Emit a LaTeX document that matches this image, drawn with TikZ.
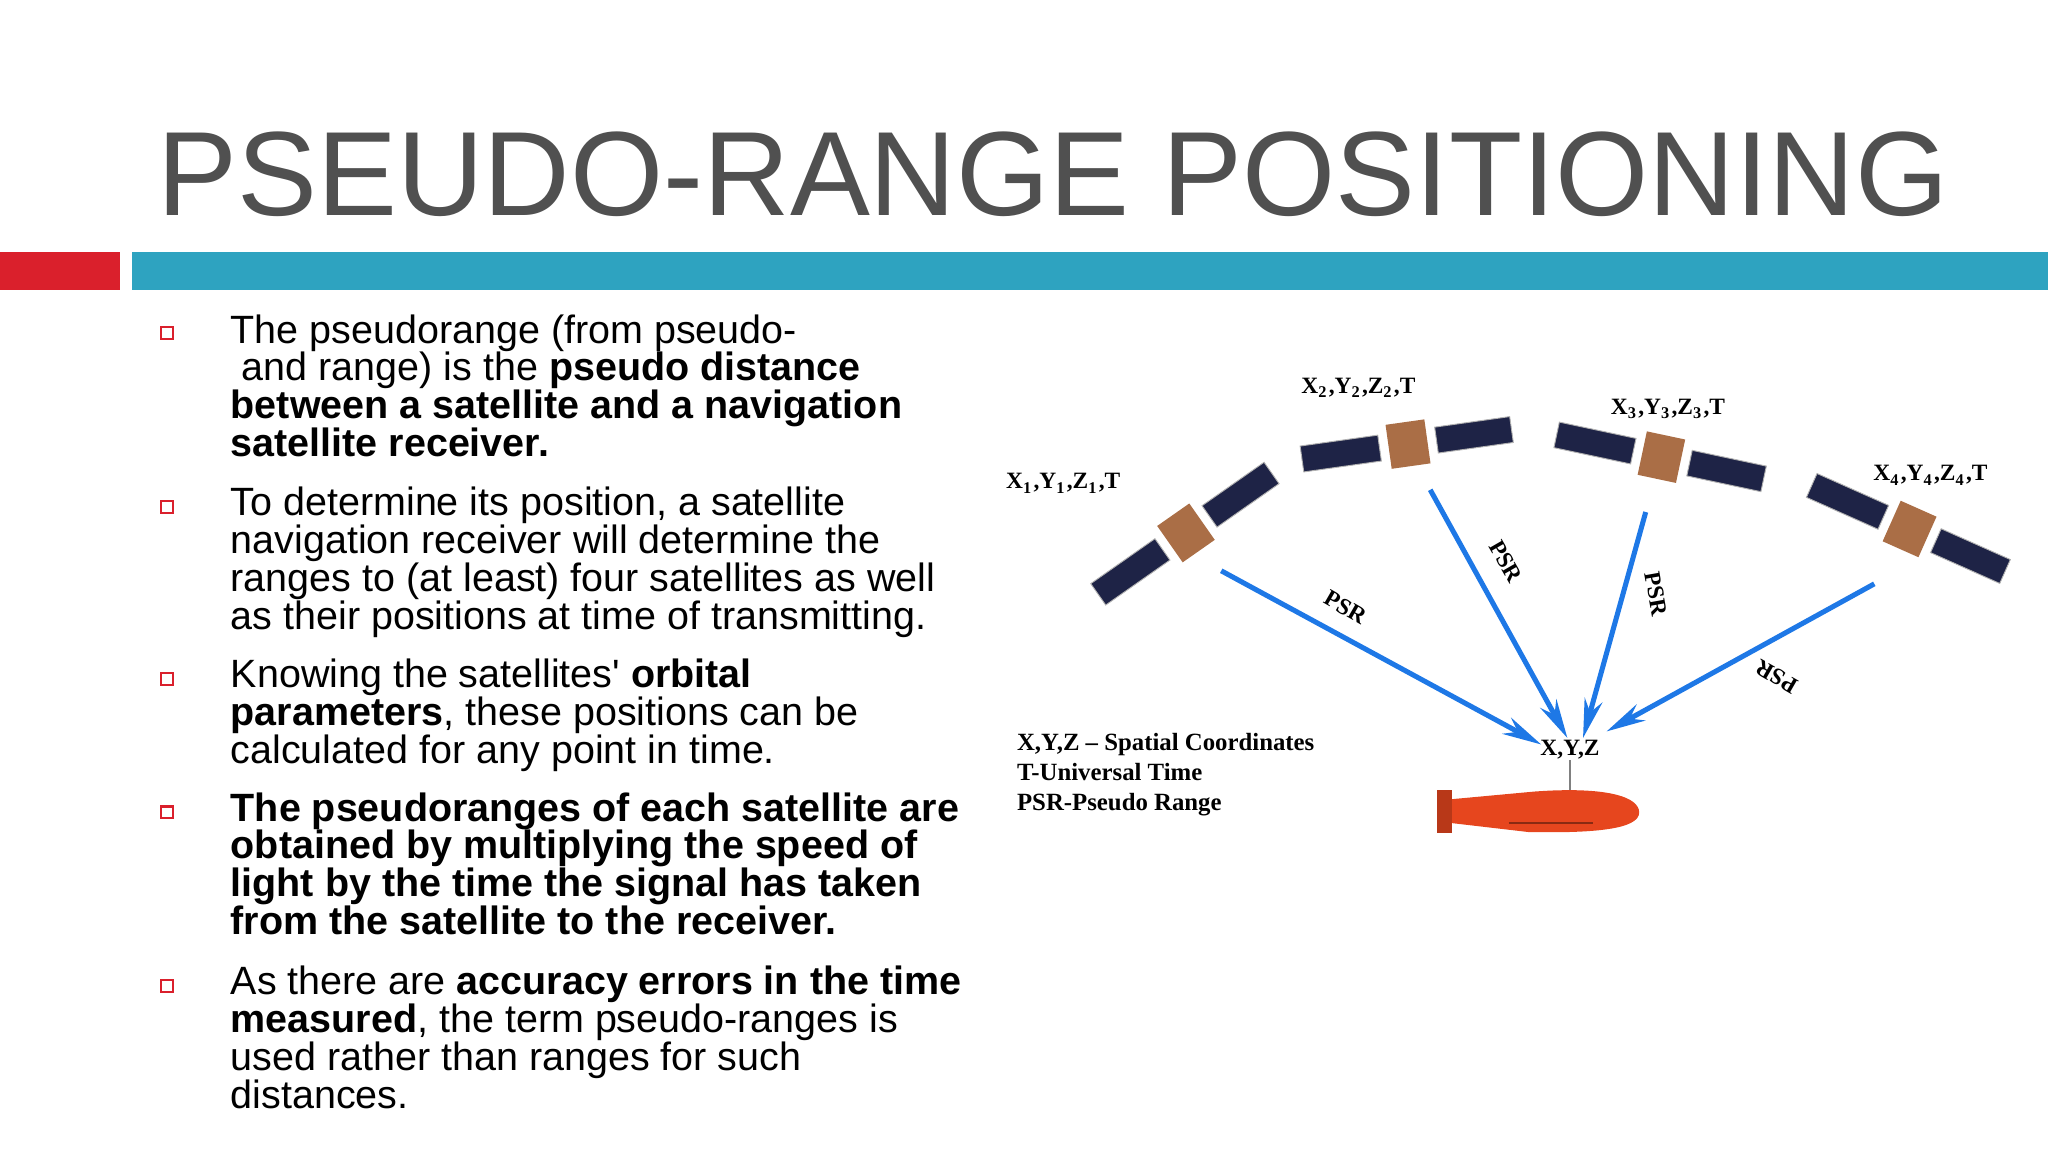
\documentclass[tikz,border=0pt]{standalone}
\usepackage{fontspec}
\setmainfont{Liberation Serif}
\newfontfamily\slidefont{Liberation Sans}
\usetikzlibrary{positioning,arrows.meta}
\definecolor{teal}{RGB}{46,163,192}
\definecolor{barred}{RGB}{218,32,44}
\definecolor{titlegray}{RGB}{80,80,80}
\definecolor{psrblue}{RGB}{30,120,230}
\definecolor{panel}{RGB}{30,35,70}
\definecolor{satbody}{RGB}{170,110,70}
\definecolor{sub}{RGB}{230,70,30}
\tikzset{
  bullet/.style={draw=barred,line width=0.5pt,minimum size=0.09cm,inner sep=0pt},
  para/.style={anchor=north west,align=left,inner sep=0pt,font=\slidefont\fontsize{8.6}{8.25}\selectfont},
  coord/.style={font=\bfseries\fontsize{5.1}{6}\selectfont,inner sep=0pt},
  psr/.style={font=\bfseries\fontsize{5.1}{6}\selectfont,inner sep=0pt},
  psrarrow/.style={-{Stealth[length=0.3cm,width=0.14cm]},psrblue,line width=1.1pt},
  sunpanel/.style={fill=panel,draw=gray!60,line width=0.2pt},
}
\newcommand{\satellite}[4]{% name, x, y, angle
  \begin{scope}[shift={(#2,#3)},rotate=#4]
    \fill[sunpanel] (-0.82,-0.1) rectangle (-0.22,0.1);
    \fill[sunpanel] (0.22,-0.1) rectangle (0.8,0.1);
    \fill[satbody] (-0.15,-0.17) rectangle (0.15,0.17);
    \coordinate (#1) at (0,0);
  \end{scope}}
\begin{document}
\begin{tikzpicture}[x=1cm,y=1cm]
\useasboundingbox (0,0) rectangle (15.68,8.82);
% title and bars
\node[anchor=base west,inner sep=0pt,text=titlegray,font=\slidefont\fontsize{26.1}{30}\selectfont] (title) at (1.2,7.17) {PSEUDO-RANGE POSITIONING};
\fill[barred] (0,6.6) rectangle (0.92,6.89);
\fill[teal] (1.01,6.6) rectangle (15.68,6.89);
% bullets
\node[bullet] (b1) at (1.28,8.82-2.55) {};
\node[bullet] (b2) at (1.28,8.82-3.88) {};
\node[bullet] (b3) at (1.28,8.82-5.20) {};
\node[bullet] (b4) at (1.28,8.82-6.22) {};
\node[bullet] (b5) at (1.28,8.82-7.55) {};
\node[para] (t1) at (1.76,8.82-2.40) {The pseudorange (from pseudo-\\\ and range) is the \textbf{pseudo distance}\\\textbf{between a satellite and a navigation}\\\textbf{satellite receiver.}};
\node[para] (t2) at (1.76,8.82-3.72) {To determine its position, a satellite\\navigation receiver will determine the\\ranges to (at least) four satellites as well\\as their positions at time of transmitting.};
\node[para] (t3) at (1.76,8.82-5.04) {Knowing the satellites' \textbf{orbital}\\\textbf{parameters}, these positions can be\\calculated for any point in time.};
\node[para] (t4) at (1.76,8.82-6.06) {\textbf{The pseudoranges of each satellite are}\\\textbf{obtained by multiplying the speed of}\\\textbf{light by the time the signal has taken}\\\textbf{from the satellite to the receiver.}};
\node[para] (t5) at (1.76,8.82-7.39) {As there are \textbf{accuracy errors in the time}\\\textbf{measured}, the term pseudo-ranges is\\used rather than ranges for such\\distances.};
% satellites
\satellite{s1}{9.08}{8.82-4.08}{35}
\satellite{s2}{10.78}{8.82-3.40}{8}
\satellite{s3}{12.72}{8.82-3.50}{-12}
\satellite{s4}{14.62}{8.82-4.05}{-24}
\node[coord] (l1) at (8.14,8.82-3.70) {X\textsubscript{1},Y\textsubscript{1},Z\textsubscript{1},T};
\node[coord] (l2) at (10.40,8.82-2.97) {X\textsubscript{2},Y\textsubscript{2},Z\textsubscript{2},T};
\node[coord] (l3) at (12.77,8.82-3.13) {X\textsubscript{3},Y\textsubscript{3},Z\textsubscript{3},T};
\node[coord] (l4) at (14.78,8.82-3.64) {X\textsubscript{4},Y\textsubscript{4},Z\textsubscript{4},T};
% ranges
\coordinate (f1) at (9.35,8.82-4.37);
\coordinate (f2) at (10.95,8.82-3.75);
\coordinate (f3) at (12.60,8.82-3.92);
\coordinate (f4) at (14.35,8.82-4.47);
\coordinate (e1) at (11.80,8.82-5.70);
\coordinate (e2) at (12.00,8.82-5.65);
\coordinate (e3) at (12.12,8.82-5.65);
\coordinate (e4) at (12.30,8.82-5.60);
\draw[psrarrow] (f1) -- (e1);
\draw[psrarrow] (f2) -- (e2);
\draw[psrarrow] (f3) -- (e3);
\draw[psrarrow] (f4) -- (e4);
\node[psr,rotate=-30] (p1) at (10.30,8.82-4.65) {PSR};
\node[psr,rotate=-60] (p2) at (11.53,8.82-4.30) {PSR};
\node[psr,rotate=-80] (p3) at (12.68,8.82-4.55) {PSR};
\node[psr,rotate=150] (p4) at (13.60,8.82-5.18) {PSR};
\node[coord] (rx) at (12.02,8.82-5.74) {X,Y,Z};
% vehicle
\draw[gray,line width=0.3pt] (rx.south) -- (12.02,8.82-6.05);
\fill[sub] (11.10,8.82-6.12) -- (11.75,8.82-6.06) .. controls (12.30,8.82-6.02) and (12.55,8.82-6.10) .. (12.55,8.82-6.22) .. controls (12.55,8.82-6.35) and (12.20,8.82-6.38) .. (11.70,8.82-6.37) -- (11.10,8.82-6.30) -- cycle;
\fill[sub!80!black] (11.00,8.82-6.05) rectangle (11.12,8.82-6.38);
\draw[sub!60!black,line width=0.4pt] (11.55,8.82-6.30) -- (12.20,8.82-6.30);
% legend
\node[coord,anchor=west,align=left,font=\bfseries\fontsize{5.4}{6.5}\selectfont] (legend) at (7.78,8.82-5.93) {X,Y,Z -- Spatial Coordinates\\T-Universal Time\\PSR-Pseudo Range};
\end{tikzpicture}
\end{document}
